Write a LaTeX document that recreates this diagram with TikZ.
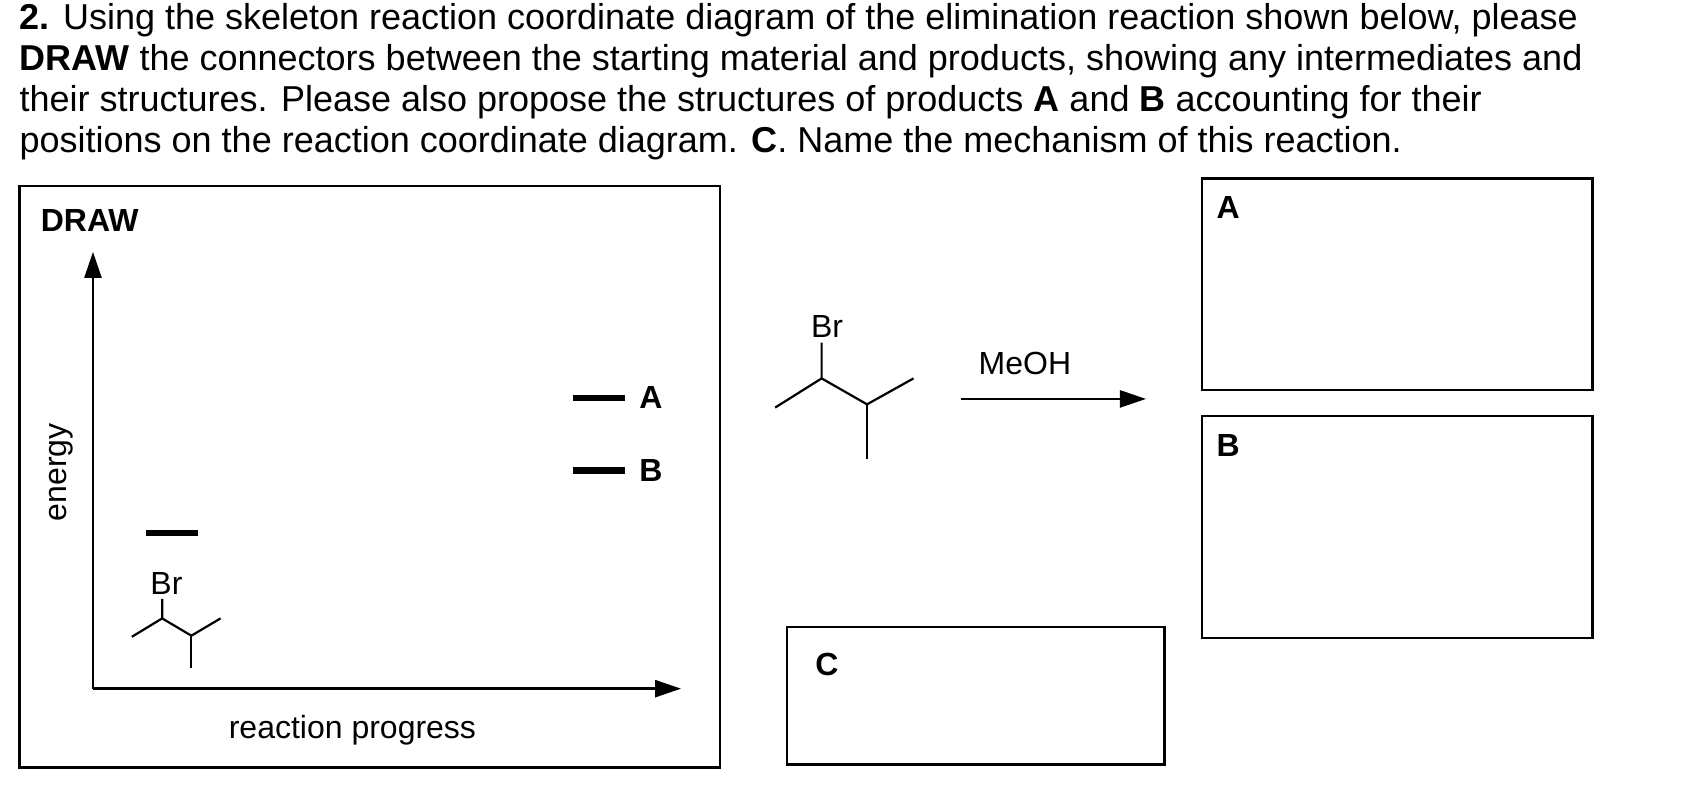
\documentclass[tikz,border=0pt]{standalone}
\usepackage{fontspec}
\setmainfont{Liberation Sans}
\usetikzlibrary{arrows.meta}
\begin{document}
\begin{tikzpicture}[x=1.0811pt,y=-1.0811pt,
  box/.style={draw,line width=2.4pt},
  bond/.style={line width=2.2pt},
  lvl/.style={line width=6.5pt},
  big/.style={font=\fontsize{36}{41}\selectfont},
  mid/.style={font=\fontsize{32}{38}\selectfont},
  bmid/.style={font=\fontsize{32}{38}\selectfont\bfseries},
  arr/.style={line width=2.4pt,-{Triangle[length=26pt,width=17pt]}}]
\useasboundingbox (0,0) rectangle (1569.7,728.9);
\node[big,anchor=north west,align=left,inner sep=0pt] (title) at (18,3) {\textbf{2.} Using the skeleton reaction coordinate diagram of the elimination reaction shown below, please\\
\textbf{DRAW} the connectors between the starting material and products, showing any intermediates and\\
their structures. Please also propose the structures of products \textbf{A} and \textbf{B} accounting for their\\
positions on the reaction coordinate diagram. \textbf{C}. Name the mechanism of this reaction.};
\draw[box] (18,172) rectangle (666,710);
\node[bmid] (draw) at (83,204) {DRAW};
\coordinate (o) at (86,637);
\coordinate (ytop) at (86,233);
\coordinate (xend) at (630,637);
\draw[arr] (o) -- (ytop);
\draw[arr] (o) -- (xend);
\node[mid,rotate=90] (en) at (57,437) {energy};
\node[mid] (rp) at (326,675) {reaction progress};
\draw[lvl] (530,368) -- (578,368);
\node[bmid] (la) at (602,368) {A};
\draw[lvl] (530,435) -- (578,435);
\node[bmid] (lb) at (602,435) {B};
\draw[lvl] (135,493) -- (183,493);
\node[mid] (br1) at (154,540) {Br};
\draw[bond] (150,554) -- (150,572) -- (122,589);
\draw[bond] (150,572) -- (177,588) -- (204,572);
\draw[bond] (177,588) -- (177,618);
\node[mid] (br2) at (765,302) {Br};
\draw[bond] (760,317) -- (760,350) -- (717,377);
\draw[bond] (760,350) -- (802,374) -- (845,350);
\draw[bond] (802,374) -- (802,425);
\node[mid] (meoh) at (948,336) {MeOH};
\draw[arr] (889,369) -- (1060,369);
\draw[box] (1112,165) rectangle (1473,361);
\node[bmid] (ba) at (1136,192) {A};
\draw[box] (1112,385) rectangle (1473,590);
\node[bmid] (bb) at (1136,412) {B};
\draw[box] (728,580) rectangle (1077,707);
\node[bmid] (bc) at (765,615) {C};
\end{tikzpicture}
\end{document}
